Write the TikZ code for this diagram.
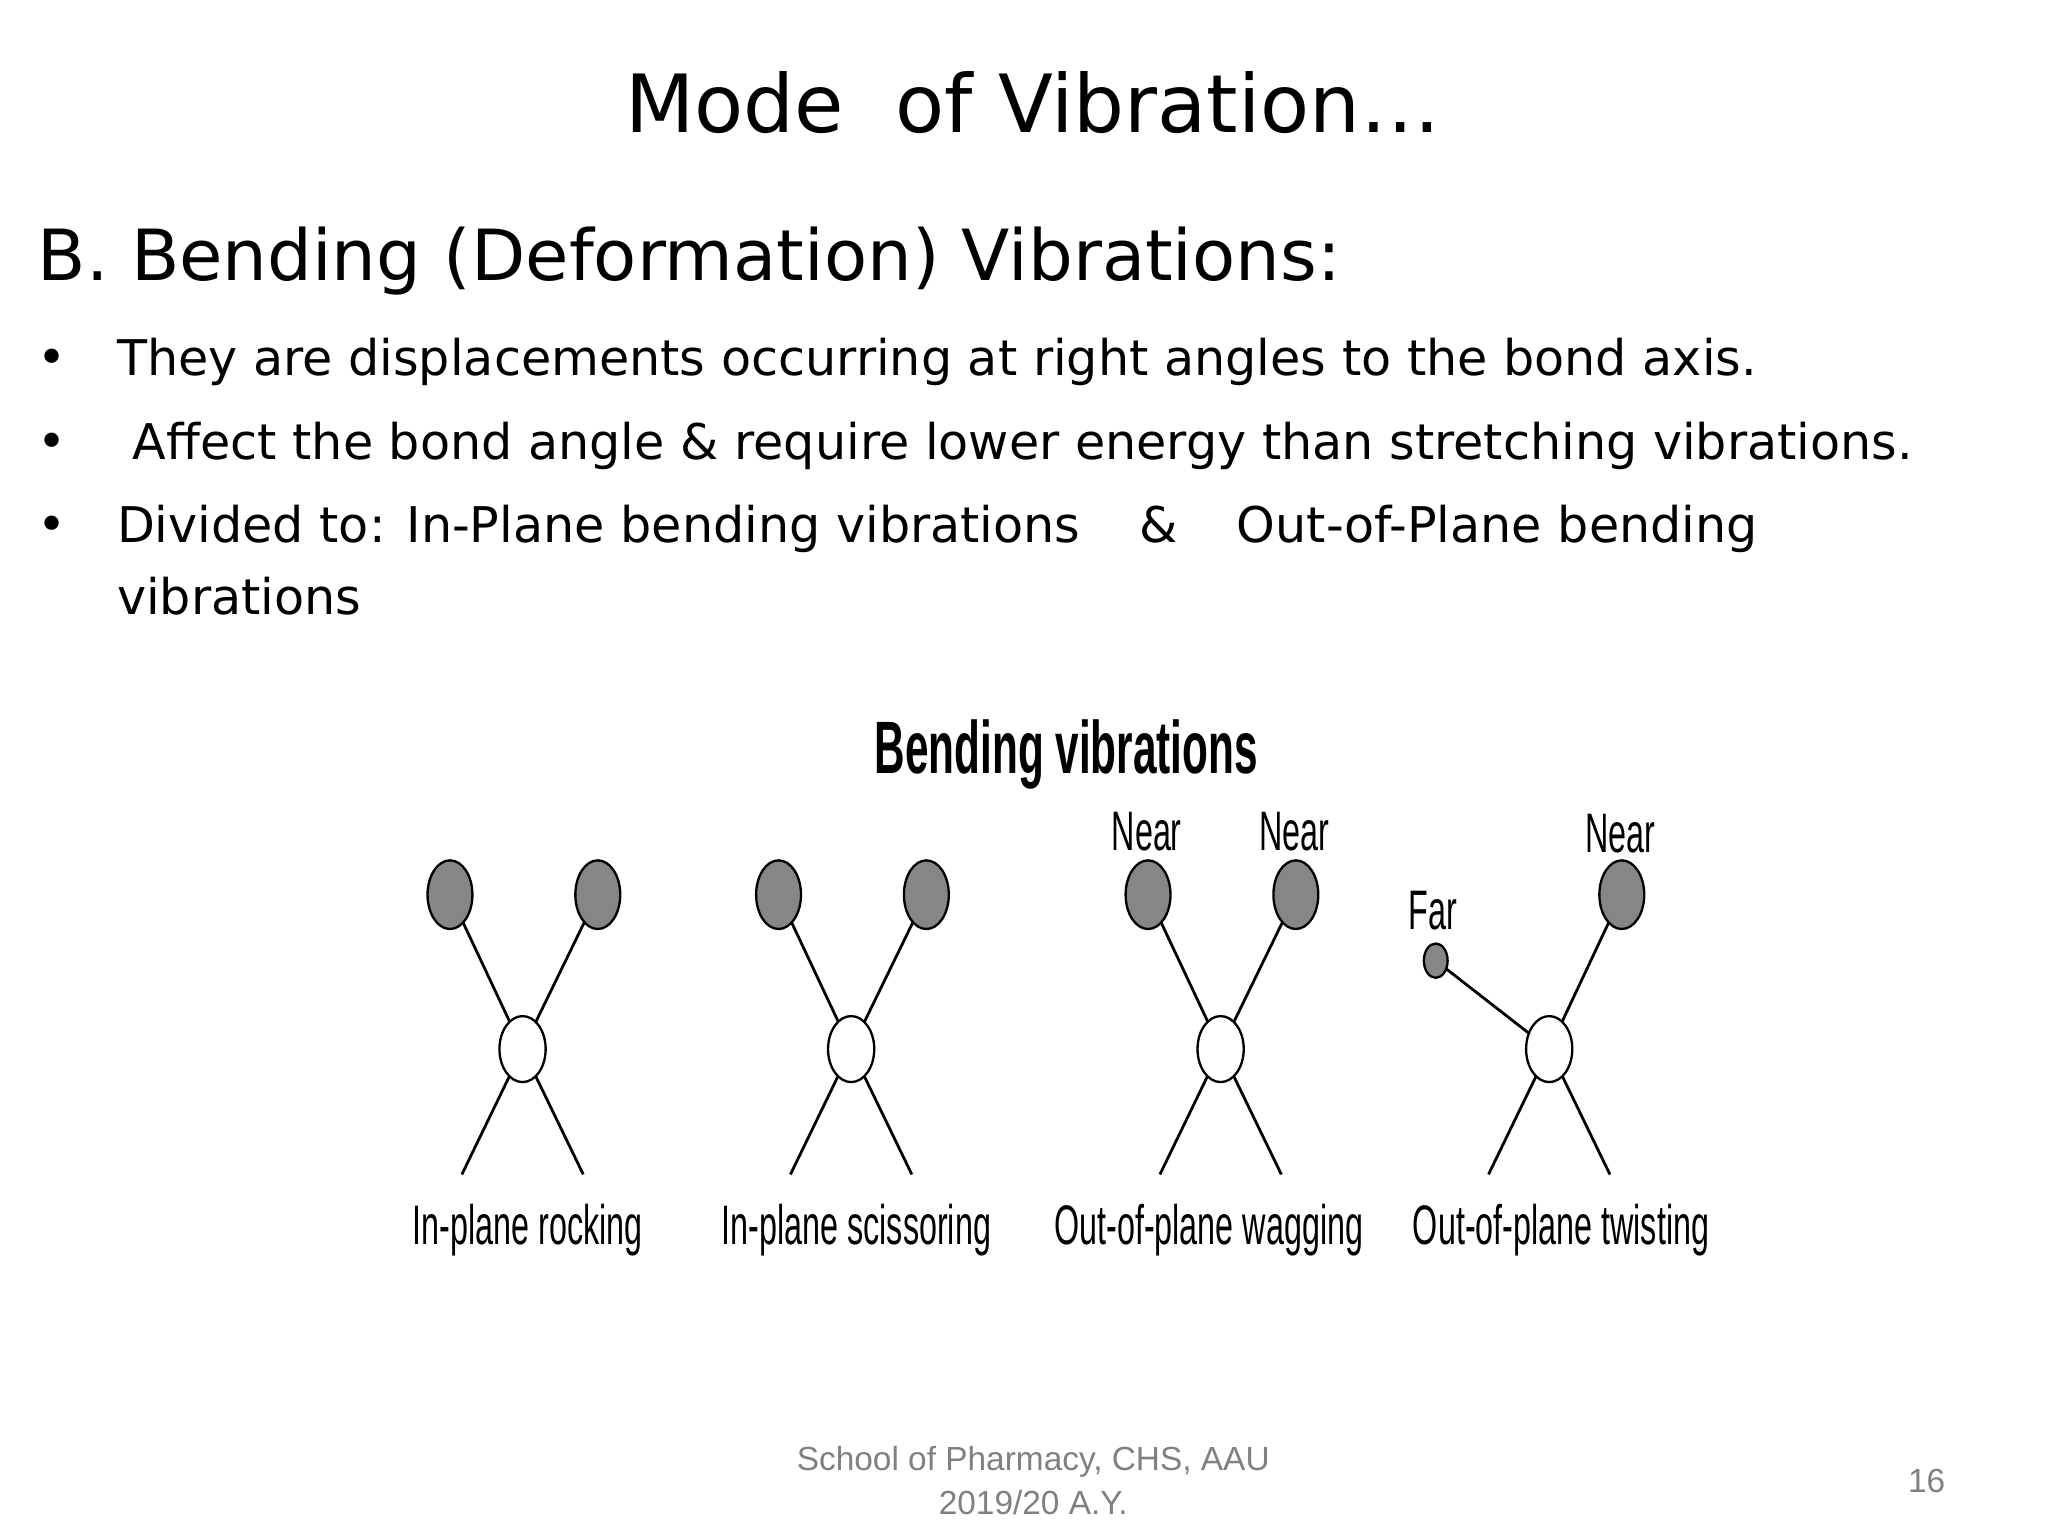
\documentclass[tikz,border=0pt]{standalone}
\usepackage{fontspec}
\usetikzlibrary{shapes.geometric}
\setmainfont{DejaVu Sans}
\newfontfamily\narrowf{Liberation Sans}
\newfontfamily\footf{Liberation Sans}
\begin{document}
\begin{tikzpicture}[x=0.01cm,y=-0.01cm,
 atom/.style={draw,fill=gray!95,line width=0.5pt,ellipse,inner sep=0,minimum width=0.34cm,minimum height=0.52cm},
 cen/.style={draw,fill=white,line width=0.5pt,ellipse,inner sep=0,minimum width=0.35cm,minimum height=0.5cm},
 bond/.style={line width=0.6pt},
 lab/.style={font=\narrowf\fontsize{12}{12}\selectfont,xscale=0.58,inner sep=0}]
\useasboundingbox (0,0) rectangle (1552,1164);
\node[font=\fontsize{17.3}{17.3}\selectfont] (title) at (783,78) {Mode\ \ of Vibration…};
\node[anchor=west,font=\fontsize{15.2}{15.2}\selectfont,inner sep=0] (hb) at (28,198) {B. Bending (Deformation) Vibrations:};
\begin{scope}[every node/.style={anchor=west,inner sep=0,font=\fontsize{10.6}{10.6}\selectfont}]
\node (d1) at (28,274) {•};
\node (b1) at (88,274) {They are displacements occurring at right angles to the bond axis.};
\node (d2) at (28,338) {•};
\node (b2) at (100,338) {Affect the bond angle \& require lower energy than stretching vibrations.};
\node (d3) at (28,401) {•};
\node (b3) at (88,401) {Divided to: In-Plane bending vibrations\hspace{1.2em}\&\hspace{1.2em}Out-of-Plane bending};
\node (b4) at (88,452) {vibrations};
\end{scope}
\node[font=\narrowf\bfseries\fontsize{16}{16}\selectfont,xscale=0.57] (bv) at (808,572) {Bending vibrations};
\foreach \s/\n in {0/a,249/b,529/c}{
 \begin{scope}[xshift=\s*0.01cm]
 \draw[bond] (341,678) -- (396,795) -- (350,890);
 \draw[bond] (453,678) -- (396,795) -- (442,890);
 \node[atom] (\n1) at (341,678) {};
 \node[atom] (\n2) at (453,678) {};
 \node[cen] (\n0) at (396,795) {};
 \end{scope}}
\draw[bond] (1088,728) -- (1174,795) -- (1128,890);
\draw[bond] (1229,678) -- (1174,795) -- (1220,890);
\node[atom,minimum width=0.18cm,minimum height=0.26cm] (d1a) at (1088,728) {};
\node[atom] (d2a) at (1229,678) {};
\node[cen] (d0) at (1174,795) {};
\node[lab] (l1) at (400,932) {In-plane rocking};
\node[lab] (l2) at (649,932) {In-plane scissoring};
\node[lab] (l3) at (916,932) {Out-of-plane wagging};
\node[lab] (l4) at (1183,932) {Out-of-plane twisting};
\node[lab] (n1) at (869,630) {Near};
\node[lab] (n2) at (981,630) {Near};
\node[lab] (n3) at (1228,632) {Near};
\node[lab] (far) at (1086,690) {Far};
\node[font=\footf\fontsize{7.2}{9.5}\selectfont,text=gray,align=center] (ft) at (783,1122) {School of Pharmacy, CHS, AAU\\2019/20 A.Y.};
\node[font=\footf\fontsize{7.2}{7.2}\selectfont,text=gray] (pg) at (1460,1122) {16};
\end{tikzpicture}
\end{document}
